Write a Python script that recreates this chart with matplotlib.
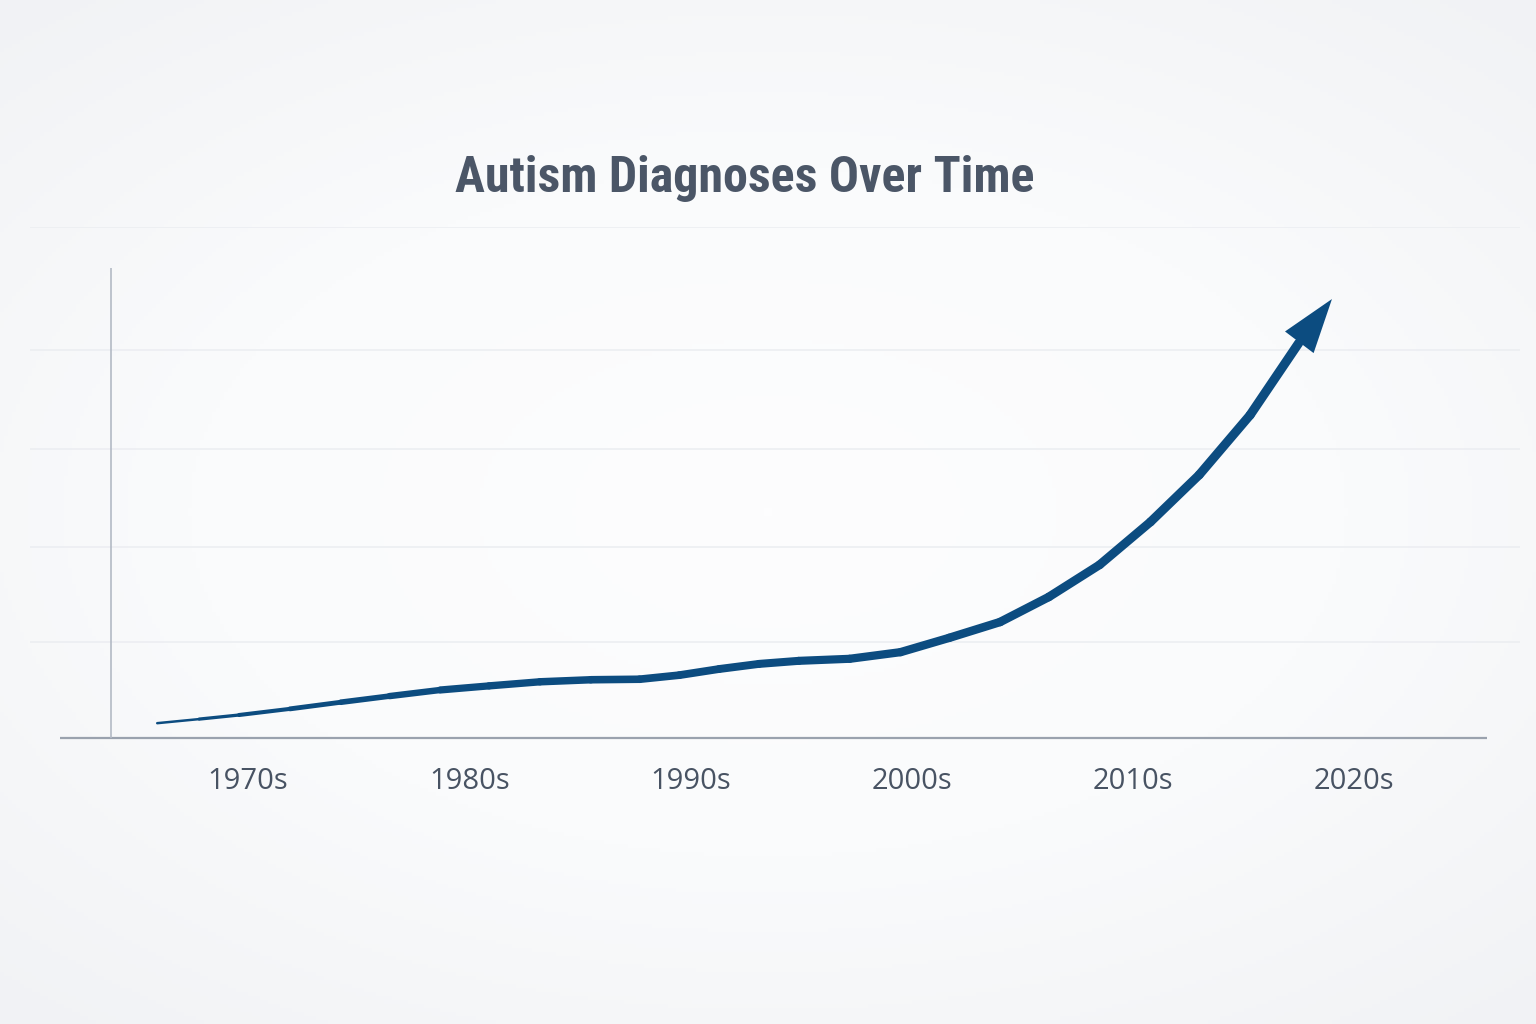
import matplotlib.pyplot as plt
import numpy as np
from matplotlib.collections import LineCollection
from matplotlib.colors import LinearSegmentedColormap
from matplotlib import font_manager

# data (index scale 0-100)
decade_labels = ['1970s', '1980s', '1990s', '2000s', '2010s', '2020s']
decade_years = [1970, 1980, 1990, 2000, 2010, 2020]

years = [1965.9, 1967.8, 1969.6, 1971.9, 1974.2, 1976.4, 1978.7, 1980.9,
         1983.2, 1985.5, 1987.7, 1989.5, 1991.3, 1993.1, 1994.9, 1997.2,
         1999.5, 2001.7, 2004.0, 2006.2, 2008.5, 2010.8, 2013.0, 2015.3,
         2017.5]
values = [2.9, 3.7, 4.5, 5.7, 7.0, 8.2, 9.4, 10.2,
          11.0, 11.4, 11.5, 12.3, 13.5, 14.5, 15.1, 15.5,
          16.8, 19.6, 22.7, 27.6, 33.9, 42.3, 51.5, 63.2,
          77.3]
tip = (2019.0, 85.9)

grid_levels = [18.8, 37.4, 56.6, 75.9, 100]

line_color = '#0c4c80'
text_color = '#4b5667'

installed = {f.name for f in font_manager.fontManager.ttflist}
title_fonts = [f for f in ['Roboto Condensed', 'DejaVu Sans Condensed',
                           'Liberation Sans Narrow', 'Roboto'] if f in installed]

fig = plt.figure(figsize=(15.36, 10.24), dpi=100)

# soft background vignette
bg = fig.add_axes([0, 0, 1, 1], zorder=-10)
yy, xx = np.mgrid[-1:1:256j, -1:1:384j]
r = np.sqrt(xx**2 * 0.8 + yy**2)
bg.imshow(r, cmap=LinearSegmentedColormap.from_list(
    'bg', ['#fdfdfe', '#fafbfc', '#f1f2f5']), vmin=0, vmax=1.35,
    aspect='auto', extent=[0, 1, 0, 1])
bg.axis('off')

ax = fig.add_axes([30/1536, 1-738/1024, 1490/1536, 511/1024])
ax.patch.set_alpha(0)
ax.set_xlim(1960.15, 2027.5)
ax.set_ylim(0, 100)

for g in grid_levels:
    ax.axhline(g, color='#ebedf1', lw=1.1, zorder=1)

# baseline and vertical axis
ax.hlines(0, 1961.5, 2026.0, color='#9aa2ae', lw=1.6, zorder=2, clip_on=False)
ax.vlines(1963.8, 0, 92, color='#b3bac5', lw=1.2, zorder=2)

pts = np.column_stack([years, values])
segs = np.stack([pts[:-1], pts[1:]], axis=1)
n = len(segs)
widths = np.concatenate([np.linspace(1.8, 5.2, 7), np.linspace(5.3, 6.6, n - 7)])
lc = LineCollection(segs, linewidths=widths, colors=line_color,
                    capstyle='round', joinstyle='round', zorder=3)
ax.add_collection(lc)

ax.annotate('', xy=tip, xytext=(years[-1], values[-1]),
            arrowprops=dict(arrowstyle='-|>,head_length=1.3,head_width=0.43',
                            mutation_scale=30, fc=line_color, ec='none', lw=0,
                            shrinkA=0, shrinkB=0), zorder=4)

ax.set_xticks(decade_years)
ax.set_xticklabels(decade_labels, fontsize=21, color='#485363',
                   family=['Open Sans', 'DejaVu Sans'])
ax.tick_params(axis='x', length=0, pad=21)
ax.set_yticks([])
for s in ax.spines.values():
    s.set_visible(False)

fig.text(745/1536, 1-178/1024, 'Autism Diagnoses Over Time', ha='center',
         va='center', fontsize=36, fontweight='bold', color=text_color,
         family=title_fonts + ['DejaVu Sans'])

fig.savefig('out.png', dpi=100)
